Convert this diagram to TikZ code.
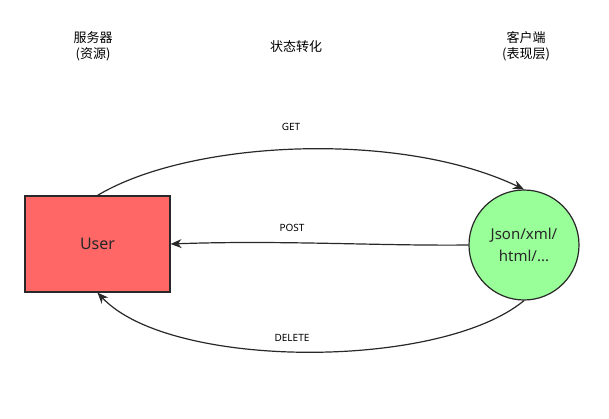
\documentclass[tikz,border=0pt]{standalone}
\usepackage{fontspec}
\newfontfamily\cjk{Noto Sans CJK SC}
\setmainfont{Noto Sans}
\tikzset{every picture/.style={line width=1.2pt}}
\tikzset{
  lbl/.style={font=\cjk\fontsize{13}{16}\selectfont, align=center, inner sep=0.75pt},
  verb/.style={font=\fontsize{10}{12}\selectfont\bfseries, inner sep=0.75pt},
  link/.style={draw={rgb,255:red,40;green,40;blue,40}, -{Stealth[length=11pt,width=9pt]}},
}
\usetikzlibrary{arrows.meta}
\begin{document}
\begin{tikzpicture}[x=1pt,y=-1pt]
\useasboundingbox (0,0) rectangle (609,418);

% Server box
\node (user) [draw={rgb,255:red,40;green,40;blue,40}, fill={rgb,255:red,255;green,102;blue,102}, minimum width=145pt, minimum height=96pt, font=\fontsize{16}{19}\selectfont\bfseries, text={rgb,255:red,40;green,40;blue,40}] at (97.5,244) {User};
% Client circle
\node (rep) [circle, draw={rgb,255:red,40;green,40;blue,40}, fill={rgb,255:red,153;green,255;blue,153}, minimum size=110pt, align=center, font=\fontsize{15}{22}\selectfont\bfseries, text={rgb,255:red,40;green,40;blue,40}, inner sep=0pt] at (524,245) {Json/xml/\\html/...};

% Text Node
\node (srv) [lbl] at (93,46) {服务器\\(资源)};
\node (state) [lbl] at (296,47) {状态转化};
\node (cli) [lbl] at (526,46) {客户端\\(表现层)};

% Connectors
\draw [link] (user.north) .. controls (190,140) and (400,130) .. (rep.north);
\draw [link] (rep.west) .. controls (380,246) and (280,240) .. (user.east);
\draw [link] (rep.south) .. controls (440,370) and (170,370) .. (user.south);

\node (get) [verb] at (291,127) {GET};
\node (post) [verb] at (292,228) {POST};
\node (del) [verb] at (292,338) {DELETE};
\end{tikzpicture}
\end{document}
